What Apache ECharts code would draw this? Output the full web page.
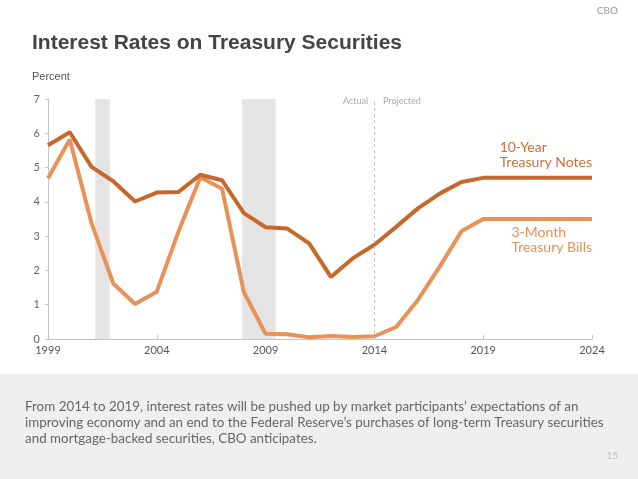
<!DOCTYPE html>
<html>
<head>
<meta charset="utf-8">
<script src="https://cdn.jsdelivr.net/npm/echarts@6/dist/echarts.min.js"></script>
<style>
  html, body { margin: 0; padding: 0; background: #fff; }
  #main { width: 638px; height: 479px; }
</style>
</head>
<body>
<div id="main"></div>
<script>
// years 1999..2024, values (percent)
var years = [1999, 2000, 2001, 2002, 2003, 2004, 2005, 2006, 2007, 2008, 2009, 2010, 2011, 2012,
             2013, 2014, 2015, 2016, 2017, 2018, 2019, 2020, 2021, 2022, 2023, 2024];
var tenYear = [5.65, 6.03, 5.02, 4.60, 4.01, 4.27, 4.29, 4.79, 4.63, 3.67, 3.26, 3.22, 2.79, 1.81,
               2.35, 2.75, 3.27, 3.81, 4.24, 4.58, 4.70, 4.70, 4.70, 4.70, 4.70, 4.70];
var threeMonth = [4.69, 5.82, 3.38, 1.62, 1.02, 1.38, 3.14, 4.72, 4.38, 1.37, 0.15, 0.14, 0.05, 0.09,
                  0.06, 0.08, 0.35, 1.14, 2.11, 3.14, 3.50, 3.50, 3.50, 3.50, 3.50, 3.50];
var recessions = [[2001.17, 2001.84], [2007.92, 2009.46]];
var projectionStart = 2014;
var yTicks = [0, 1, 2, 3, 4, 5, 6, 7];
var baseYear = 1999;

var chart = echarts.init(document.getElementById('main'));

function pairs(vals) {
    return years.map(function (y, i) { return [y - baseYear, vals[i]]; });
}

var font = 'Lato, "Open Sans", sans-serif';

var option = {
    backgroundColor: '#fff',
    animation: false,
    grid: { left: 48, right: 46, top: 99, bottom: 140 },
    xAxis: {
        type: 'value',
        min: 0,
        max: years[years.length - 1] - baseYear,
        interval: 5,
        axisLine: { show: true, lineStyle: { color: '#c4c4c4', width: 1 } },
        axisTick: { show: true, inside: true, length: 4, lineStyle: { color: '#c4c4c4' } },
        axisLabel: {
            color: '#555', fontSize: 11, fontFamily: font, margin: 6,
            formatter: function (v) { return String(v + baseYear); }
        },
        splitLine: { show: false }
    },
    yAxis: {
        type: 'value',
        min: yTicks[0],
        max: yTicks[yTicks.length - 1],
        interval: 1,
        axisLine: { show: true, lineStyle: { color: '#c4c4c4', width: 1 } },
        axisTick: { show: true, length: 3, lineStyle: { color: '#c4c4c4' } },
        axisLabel: { color: '#666', fontSize: 11, fontFamily: font, margin: 8 },
        splitLine: { show: false }
    },
    series: [
        {
            name: '3-Month Treasury Bills',
            type: 'line',
            symbol: 'none',
            lineStyle: { color: '#e8925a', width: 4 },
            data: pairs(threeMonth),
            markArea: {
                silent: true,
                itemStyle: { color: '#e4e4e4' },
                data: recessions.map(function (r) {
                    return [{ xAxis: r[0] - baseYear }, { xAxis: r[1] - baseYear }];
                })
            },
            markLine: {
                silent: true,
                symbol: 'none',
                label: { show: false },
                lineStyle: { color: '#bdbdbd', type: [3, 3], width: 1 },
                data: [{ xAxis: projectionStart - baseYear }]
            },
            z: 2
        },
        {
            name: '10-Year Treasury Notes',
            type: 'line',
            symbol: 'none',
            lineStyle: { color: '#c8672c', width: 4 },
            data: pairs(tenYear),
            z: 3
        }
    ],
    graphic: [
        { type: 'rect', left: 0, top: 374, shape: { width: 638, height: 105 }, style: { fill: '#efefef' }, z: -1 },
        { type: 'text', left: 32, top: 33, style: { text: 'Interest Rates on Treasury Securities',
            fill: '#444', font: 'bold 21px "Liberation Sans Narrow", sans-serif' } },
        { type: 'text', left: 32, top: 71, style: { text: 'Percent', fill: '#555',
            font: '11px "Liberation Sans Narrow", sans-serif' } },
        { type: 'text', right: 20, top: 6, style: { text: 'CBO', fill: '#999', font: '10px ' + font } },
        { type: 'text', left: 343, top: 97, style: { text: 'Actual', fill: '#aaa', font: '9px ' + font } },
        { type: 'text', left: 383, top: 97, style: { text: 'Projected', fill: '#aaa', font: '9px ' + font } },
        { type: 'text', right: 46, top: 140, style: { text: '10-Year\nTreasury Notes', fill: '#c8703a',
            align: 'right', lineHeight: 15, font: '14px ' + font } },
        { type: 'text', right: 46, top: 225, style: { text: '3-Month\nTreasury Bills', fill: '#e29058',
            align: 'right', lineHeight: 15, font: '14px ' + font } },
        { type: 'text', left: 25, top: 399, style: {
            text: 'From 2014 to 2019, interest rates will be pushed up by market participants\u2019 expectations of an\n' +
                  'improving economy and an end to the Federal Reserve\u2019s purchases of long-term Treasury securities\n' +
                  'and mortgage-backed securities, CBO anticipates.',
            fill: '#666', lineHeight: 16, font: '13.4px ' + font } },
        { type: 'text', right: 20, top: 451, style: { text: '15', fill: '#bbb', font: '10px ' + font } }
    ]
};

chart.setOption(option);
</script>
</body>
</html>
